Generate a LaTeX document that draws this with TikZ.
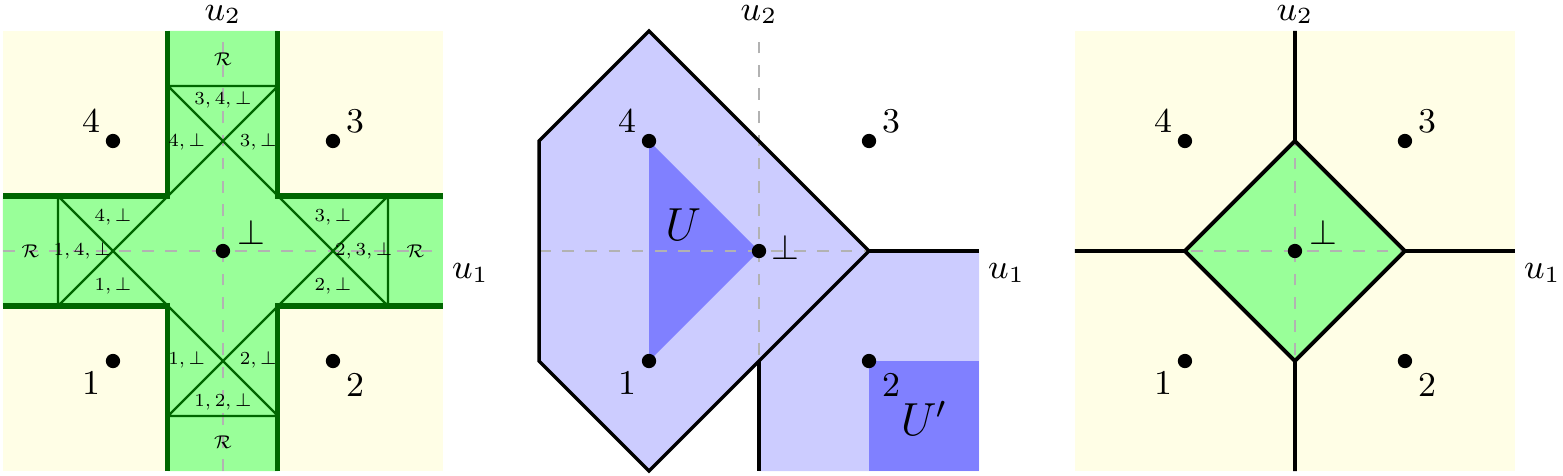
\documentclass[tikz,border=0pt]{standalone}
\begin{document}
\begin{tikzpicture}[x=1cm,y=1cm,
  dot/.style={circle,fill=black,inner sep=0pt,minimum size=0.13cm},
  ax/.style={gray!60,dashed,thin},
  thick green/.style={draw=green!40!black,line width=1.3pt},
  diag/.style={draw=green!40!black,line width=0.6pt},
  sl/.style={font=\scriptsize,scale=0.68,inner sep=0pt},
  pl/.style={font=\small,inner sep=0pt},
  yel/.style={fill=yellow!10},
  grn/.style={fill=green!40}]
\useasboundingbox (-2.027,-2.045) rectangle (12.182,2.282);
% ---------- left panel
\fill[yel] (-2,-2) rectangle (2,2);
\fill[grn] (-0.5,-2) -- (-0.5,-0.5) -- (-2,-0.5) -- (-2,0.5) -- (-0.5,0.5) -- (-0.5,2) -- (0.5,2) -- (0.5,0.5) -- (2,0.5) -- (2,-0.5) -- (0.5,-0.5) -- (0.5,-2) -- cycle;
\draw[ax] (-2,0) -- (2,0); \draw[ax] (0,-2) -- (0,2);
\draw[diag] (-0.5,0.5) -- (-1.5,-0.5) (-0.5,-0.5) -- (-1.5,0.5) (-1.5,-0.5) -- (-1.5,0.5);
\draw[diag] (0.5,0.5) -- (1.5,-0.5) (0.5,-0.5) -- (1.5,0.5) (1.5,-0.5) -- (1.5,0.5);
\draw[diag] (-0.5,0.5) -- (0.5,1.5) (0.5,0.5) -- (-0.5,1.5) (-0.5,1.5) -- (0.5,1.5);
\draw[diag] (-0.5,-0.5) -- (0.5,-1.5) (0.5,-0.5) -- (-0.5,-1.5) (-0.5,-1.5) -- (0.5,-1.5);
\draw[thick green] (-0.5,2) -- (-0.5,0.5) -- (-2,0.5) (0.5,2) -- (0.5,0.5) -- (2,0.5)
  (-0.5,-2) -- (-0.5,-0.5) -- (-2,-0.5) (0.5,-2) -- (0.5,-0.5) -- (2,-0.5);
\node[sl] (r1) at (0,1.74) {$\mathcal R$};
\node[sl] (r2) at (0,-1.74) {$\mathcal R$};
\node[sl] (r3) at (-1.75,0) {$\mathcal R$};
\node[sl] (r4) at (1.75,0) {$\mathcal R$};
\node[sl] (a1) at (0,1.37) {$3,4,\bot$};
\node[sl] (a2) at (-0.33,0.99) {$4,\bot$};
\node[sl] (a3) at (0.32,0.99) {$3,\bot$};
\node[sl] (b1) at (0,-1.37) {$1,2,\bot$};
\node[sl] (b2) at (-0.33,-0.99) {$1,\bot$};
\node[sl] (b3) at (0.32,-0.99) {$2,\bot$};
\node[sl] (c1) at (-1.28,0) {$1,4,\bot$};
\node[sl] (c2) at (-1,0.31) {$4,\bot$};
\node[sl] (c3) at (-1,-0.32) {$1,\bot$};
\node[sl] (d1) at (1.28,0) {$2,3,\bot$};
\node[sl] (d2) at (1,0.31) {$3,\bot$};
\node[sl] (d3) at (1,-0.32) {$2,\bot$};
\foreach \n/\x/\y/\lx/\ly in {1/-1/-1/-0.2/-0.2, 2/1/-1/0.2/-0.22, 3/1/1/0.2/0.18, 4/-1/1/-0.2/0.18}{
  \node[dot] (L\n) at (\x,\y) {};
  \node[pl] (Ll\n) at (\x+\lx,\y+\ly) {$\n$};}
\node[dot] (Lb) at (0,0) {};
\node[pl] (Lbl) at (0.26,0.17) {$\bot$};
\node[pl] (Lu1) at (2.25,-0.2) {$u_1$};
\node[pl] (Lu2) at (0,2.15) {$u_2$};
% ---------- middle panel
\begin{scope}[xshift=4.873cm]
\fill[blue!20] (-2,1) -- (-1,2) -- (1,0) -- (-1,-2) -- (-2,-1) -- cycle;
\fill[blue!20] (1,0) -- (2,0) -- (2,-2) -- (0,-2) -- (0,-1) -- cycle;
\fill[blue!50] (-1,1) -- (0,0) -- (-1,-1) -- cycle;
\fill[blue!50] (1,-1) rectangle (2,-2);
\draw[ax] (-2,0) -- (2,0); \draw[ax] (0,-2) -- (0,2);
\draw[line width=0.9pt] (-2,1) -- (-1,2) -- (1,0) -- (-1,-2) -- (-2,-1) -- cycle;
\draw[line width=0.9pt] (1,0) -- (2,0) (0,-1) -- (0,-2);
\node[font=\large] (U) at (-0.69,0.24) {$U$};
\node[font=\large] (Up) at (1.5,-1.52) {$U'$};
\foreach \n/\x/\y/\lx/\ly in {1/-1/-1/-0.2/-0.2, 2/1/-1/0.2/-0.22, 3/1/1/0.2/0.18, 4/-1/1/-0.2/0.18}{
  \node[dot] (M\n) at (\x,\y) {};
  \node[pl] (Ml\n) at (\x+\lx,\y+\ly) {$\n$};}
\node[dot] (Mb) at (0,0) {};
\node[pl] (Mbl) at (0.24,0.03) {$\bot$};
\node[pl] (Mu1) at (2.25,-0.2) {$u_1$};
\node[pl] (Mu2) at (0,2.15) {$u_2$};
\end{scope}
% ---------- right panel
\begin{scope}[xshift=9.745cm]
\fill[yel] (-2,-2) rectangle (2,2);
\fill[grn] (-1,0) -- (0,1) -- (1,0) -- (0,-1) -- cycle;
\draw[ax] (-2,0) -- (2,0); \draw[ax] (0,-2) -- (0,2);
\draw[line width=1pt] (-1,0) -- (0,1) -- (1,0) -- (0,-1) -- cycle
  (-1,0) -- (-2,0) (1,0) -- (2,0) (0,1) -- (0,2) (0,-1) -- (0,-2);
\foreach \n/\x/\y/\lx/\ly in {1/-1/-1/-0.2/-0.2, 2/1/-1/0.2/-0.22, 3/1/1/0.2/0.18, 4/-1/1/-0.2/0.18}{
  \node[dot] (R\n) at (\x,\y) {};
  \node[pl] (Rl\n) at (\x+\lx,\y+\ly) {$\n$};}
\node[dot] (Rb) at (0,0) {};
\node[pl] (Rbl) at (0.26,0.17) {$\bot$};
\node[pl] (Ru1) at (2.25,-0.2) {$u_1$};
\node[pl] (Ru2) at (0,2.15) {$u_2$};
\end{scope}
\end{tikzpicture}
\end{document}
